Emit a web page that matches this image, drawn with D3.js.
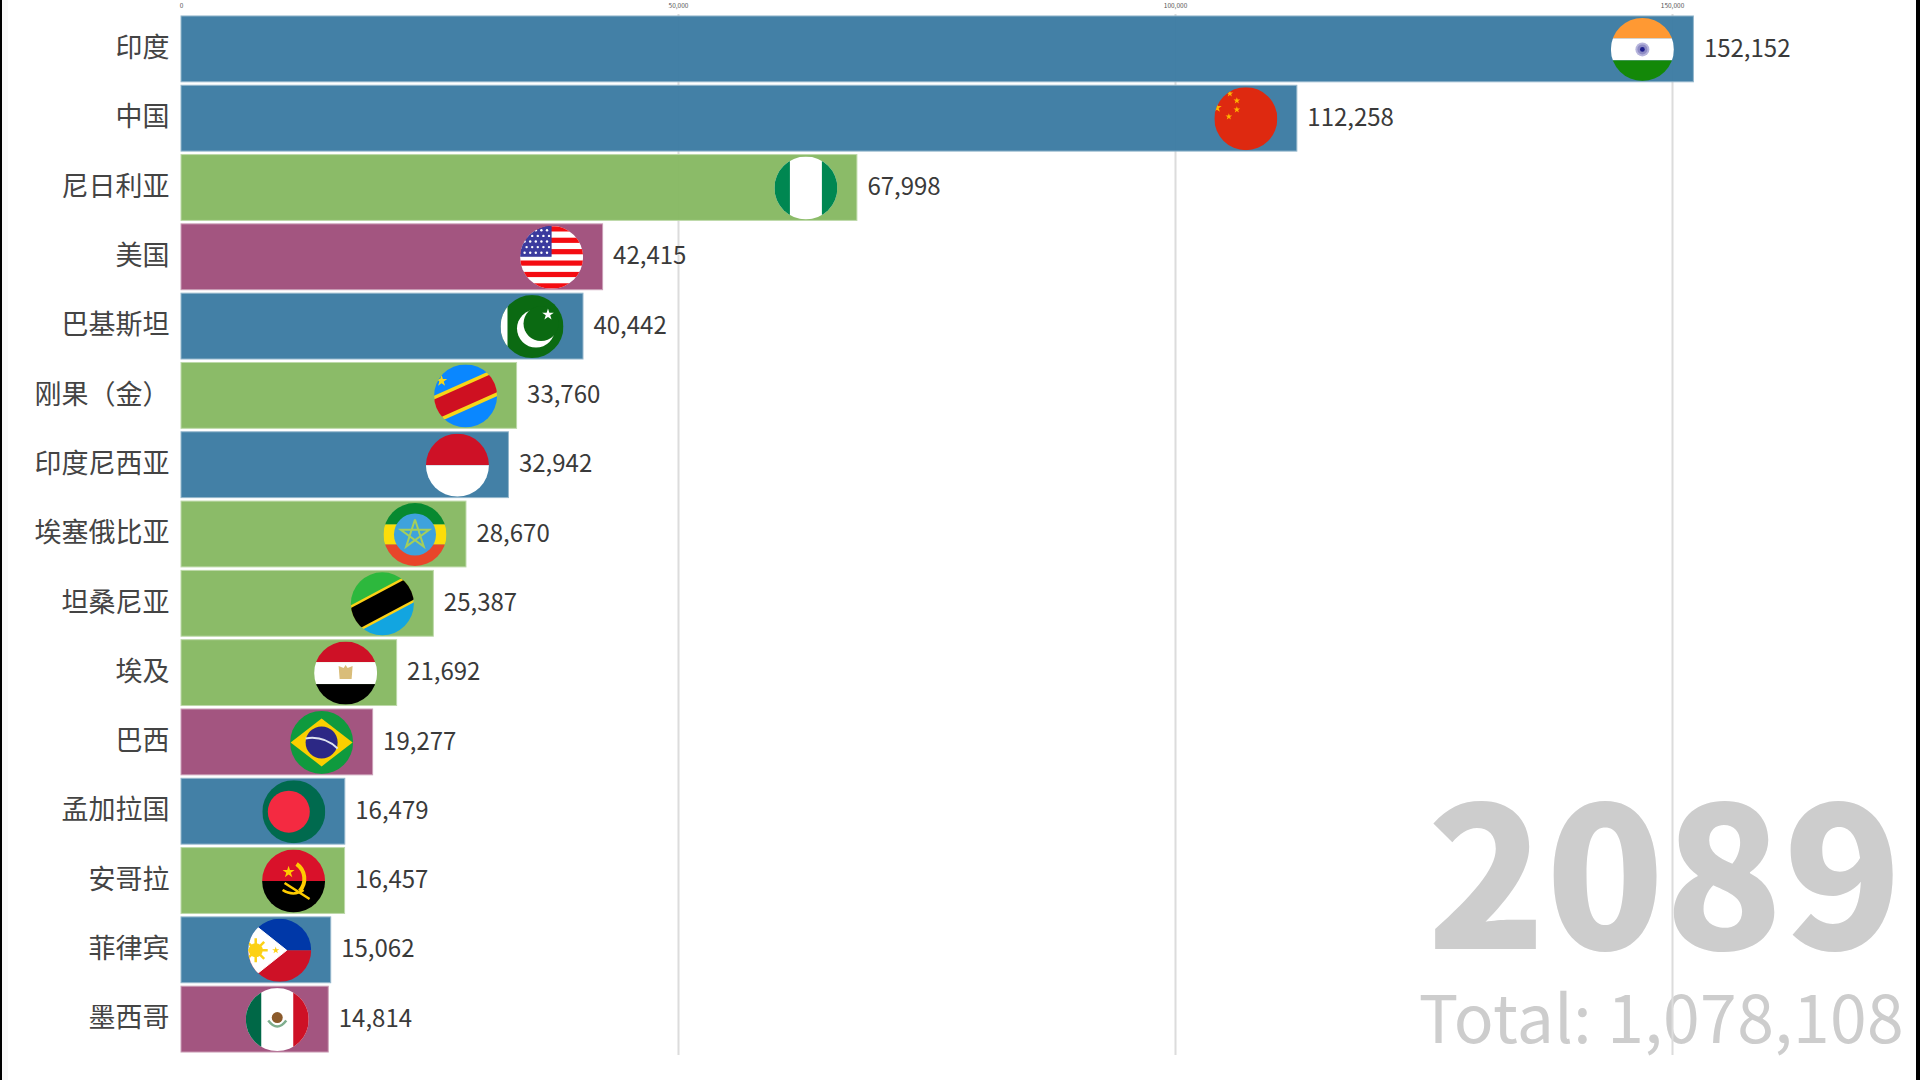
<!DOCTYPE html>
<html lang="zh">
<head>
    <meta charset="UTF-8">
    <title>Population 2089</title>
    <script type="text/javascript" src="https://cdnjs.cloudflare.com/ajax/libs/d3/7.8.5/d3.min.js"></script>
    <style>
        html, body { margin: 0; padding: 0; background: #fff; overflow: hidden; }
        text { font-family: "Noto Sans CJK SC", "Noto Sans", sans-serif; }
    </style>
</head>
<body>
<svg id="chart" width="1920" height="1080"></svg>
<script>
    var countries = ["印度", "中国", "尼日利亚", "美国", "巴基斯坦", "刚果（金）", "印度尼西亚", "埃塞俄比亚",
        "坦桑尼亚", "埃及", "巴西", "孟加拉国", "安哥拉", "菲律宾", "墨西哥"];
    var values = [152152, 112258, 67998, 42415, 40442, 33760, 32942, 28670, 25387, 21692, 19277, 16479, 16457, 15062, 14814];
    var continents = ["asia", "asia", "africa", "america", "asia", "africa", "asia", "africa",
        "africa", "africa", "america", "asia", "africa", "asia", "america"];
    var flagCodes = ["in", "cn", "ng", "us", "pk", "cd", "id", "et", "tz", "eg", "br", "bd", "ao", "ph", "mx"];
    var tickValues = [0, 50000, 100000, 150000];
    var yearLabel = "2089";
    var totalLabel = "Total: 1,078,108";

    var colorScale = d3.scaleOrdinal()
        .domain(["asia", "africa", "america"])
        .range(["#3d7ca3", "#87b963", "#a0507c"]);

    var x = d3.scaleLinear().domain([0, 150000]).range([181, 1672]);
    var y = d3.scaleBand().domain(countries).range([12.5, 1055.5]).padding(0.05);
    var flagR = 31.5;

    var svg = d3.select("#chart");
    var defs = svg.append("defs");
    defs.append("clipPath").attr("id", "flagClip").append("circle").attr("r", flagR);

    // video edges
    svg.append("rect").attr("x", 2).attr("width", 6).attr("height", 1080).attr("fill", "#f9f9f9");
    svg.append("rect").attr("width", 2).attr("height", 1080).attr("fill", "#000");
    svg.append("rect").attr("x", 1916).attr("width", 4).attr("height", 1080).attr("fill", "#000");

    svg.append("text").attr("x", 1902).attr("y", 949)
        .attr("text-anchor", "end").attr("font-size", 195).attr("font-weight", 900)
        .attr("fill", "#cdcdcd").text(yearLabel);
    svg.append("text").attr("x", 1904).attr("y", 1043)
        .attr("text-anchor", "end").attr("font-size", 66).attr("font-weight", 400)
        .attr("letter-spacing", 0.4)
        .attr("fill", "#cdcdcd").text(totalLabel);

    // axis on top, the gridlines are the long inner ticks
    var axis = svg.append("g")
        .attr("transform", "translate(0,14)")
        .call(d3.axisTop(x).tickValues(tickValues).tickSize(0).tickFormat(d3.format(",")));
    axis.select(".domain").remove();
    axis.selectAll("text").attr("font-size", 6.5).attr("fill", "#555").attr("y", -6).attr("dy", 0);
    axis.selectAll("line")
        .attr("y2", function(d) { return d === 0 ? 0 : 1041; })
        .attr("stroke", "#dcdcdc").attr("stroke-width", 2);

    var rows = svg.selectAll("g.row").data(countries).enter().append("g")
        .attr("class", "row")
        .attr("transform", function(d) { return "translate(0," + y(d) + ")"; });

    rows.append("rect")
        .attr("x", x(0))
        .attr("width", function(d, i) { return x(values[i]) - x(0); })
        .attr("height", y.bandwidth())
        .attr("fill", function(d, i) { return colorScale(continents[i]); })
        .attr("fill-opacity", 0.97)
        .attr("stroke", function(d, i) { return d3.interpolateRgb(colorScale(continents[i]), "#fff")(0.45); })
        .attr("stroke-width", 1);

    rows.append("text")
        .attr("x", 169.5).attr("y", y.bandwidth() / 2 - 1.5).attr("dy", "0.36em")
        .attr("text-anchor", "end").attr("font-size", 27).attr("fill", "#444")
        .text(function(d) { return d; });

    rows.append("text")
        .attr("x", function(d, i) { return x(values[i]) + 10.5; })
        .attr("y", y.bandwidth() / 2 - 1).attr("dy", "0.36em")
        .attr("font-size", 24).attr("fill", "#3a3a3a")
        .text(function(d, i) { return d3.format(",")(values[i]); });

    var flags = rows.append("g")
        .attr("transform", function(d, i) {
            return "translate(" + (x(values[i]) - 51) + "," + (y.bandwidth() / 2 + 0.5) + ")";
        })
        .append("g").attr("clip-path", "url(#flagClip)");

    var flagDrawers = drawers();
    flags.each(function(d, i) { flagDrawers[flagCodes[i]](d3.select(this)); });

    // helpers for the flags, all local to a circle of radius flagR around 0,0
    function band(g, x0, y0, w, h, fill) {
        return g.append("rect").attr("x", x0).attr("y", y0).attr("width", w).attr("height", h).attr("fill", fill);
    }
    function disc(g, cx, cy, r, fill) {
        return g.append("circle").attr("cx", cx).attr("cy", cy).attr("r", r).attr("fill", fill);
    }
    function star(g, cx, cy, size, fill) {
        return g.append("path")
            .attr("d", d3.symbol().type(d3.symbolStar).size(size)())
            .attr("transform", "translate(" + cx + "," + cy + ")")
            .attr("fill", fill);
    }
    function pole(g, left, mid, right) {
        band(g, -flagR, -flagR, flagR * 2, flagR * 2, mid);
        band(g, -flagR, -flagR, flagR - 16, flagR * 2, left);
        band(g, 16, -flagR, flagR - 16, flagR * 2, right);
    }
    function tricolor(g, top, mid, bottom, a, b) {
        band(g, -flagR, -flagR, flagR * 2, a + flagR, top);
        band(g, -flagR, a, flagR * 2, b - a, mid);
        band(g, -flagR, b, flagR * 2, flagR - b, bottom);
    }

    function drawers() {
        return {
            "in": function(g) {
                tricolor(g, "#ff9933", "#ffffff", "#138808", -11, 11);
                disc(g, 0, 0, 7, "#b6b4dc");
                disc(g, 0, 0, 5, "#8e8cc4");
                disc(g, 0, 0, 2.4, "#1e1e8c");
            },
            "cn": function(g) {
                band(g, -flagR, -flagR, flagR * 2, flagR * 2, "#de2910");
                star(g, -29, -11, 30, "#ffb400");
                star(g, -16, -25, 14, "#ffb400");
                star(g, -9, -18, 14, "#ffb400");
                star(g, -9, -9, 14, "#ffb400");
                star(g, -17, -2, 14, "#ffb400");
            },
            "ng": function(g) { pole(g, "#008751", "#ffffff", "#008751"); },
            "us": function(g) {
                band(g, -flagR, -flagR, flagR * 2, flagR * 2, "#ffffff");
                d3.range(0, 11, 2).forEach(function(k) {
                    band(g, -flagR, -flagR + k * 5.7 + 0.5, flagR * 2, 5.2, "#f40c12");
                });
                band(g, -flagR, -flagR, flagR, 31, "#3b3b9e");
                d3.range(5).forEach(function(r) {
                    d3.range(5).forEach(function(c) {
                        disc(g, -27 + c * 5.6 + (r % 2) * 2, -27 + r * 5.6, 1.2, "#ffffff");
                    });
                });
            },
            "pk": function(g) {
                band(g, -flagR, -flagR, flagR * 2, flagR * 2, "#0b6a12");
                band(g, -flagR, -flagR, 7, flagR * 2, "#ffffff");
                disc(g, 4, 2, 19, "#ffffff");
                disc(g, 9, -3, 17.5, "#0b6a12");
                star(g, 16, -12, 42, "#ffffff");
            },
            "cd": function(g) {
                band(g, -flagR, -flagR, flagR * 2, flagR * 2, "#0a87ff");
                var s = g.append("g").attr("transform", "rotate(-24)");
                band(s, -45, -13, 90, 26, "#f7d618");
                band(s, -45, -9.5, 90, 19, "#ce1021");
                star(g, -24, -15, 40, "#f7d618");
            },
            "id": function(g) { tricolor(g, "#ce1126", "#ce1126", "#ffffff", 0, 0); },
            "et": function(g) {
                tricolor(g, "#078930", "#fcdd09", "#e8452a", -10, 10);
                disc(g, 0, 0, 21, "#3ea2dc");
                var points = d3.range(6).map(function(k) {
                    var a = -Math.PI / 2 + k * 4 * Math.PI / 5;
                    return [15 * Math.cos(a), 15 * Math.sin(a)];
                });
                g.append("path").attr("d", d3.line()(points)).attr("fill", "none")
                    .attr("stroke", "#a5cf5a").attr("stroke-width", 2);
            },
            "tz": function(g) {
                var s = g.append("g").attr("transform", "rotate(-28)");
                band(s, -45, -45, 90, 45, "#2db83d");
                band(s, -45, 0, 90, 45, "#12a5e0");
                band(s, -45, -13.5, 90, 27, "#fcd116");
                band(s, -45, -11, 90, 22, "#000000");
            },
            "eg": function(g) {
                tricolor(g, "#ce1126", "#ffffff", "#000000", -11, 11);
                g.append("path").attr("d", "M-7,-7L-2,-5L0,-8L2,-5L7,-7L6,6L-6,6Z").attr("fill", "#d9bd7a");
            },
            "br": function(g) {
                band(g, -flagR, -flagR, flagR * 2, flagR * 2, "#0f9a3e");
                g.append("path").attr("d", "M-31,0L0,-24L31,0L0,24Z").attr("fill", "#fbcf00");
                disc(g, 0, 0, 16, "#2c2885");
                g.append("path").attr("d", "M-16,-4Q2,-7 16,6").attr("fill", "none")
                    .attr("stroke", "#dfe3f0").attr("stroke-width", 2);
            },
            "bd": function(g) {
                band(g, -flagR, -flagR, flagR * 2, flagR * 2, "#006a4e");
                disc(g, -5, 0, 21, "#f42a41");
            },
            "ao": function(g) {
                band(g, -flagR, -flagR, flagR * 2, flagR, "#d9112a");
                band(g, -flagR, 0, flagR * 2, flagR, "#000000");
                star(g, -5, -9, 45, "#ffcb00");
                g.append("path").attr("d", "M3,-17A18,18 0 0 1 6,10").attr("fill", "none")
                    .attr("stroke", "#ffcb00").attr("stroke-width", 4);
                g.append("path").attr("d", "M-11,9Q0,16 10,9M-9,2L16,18").attr("fill", "none")
                    .attr("stroke", "#ffcb00").attr("stroke-width", 2.5);
            },
            "ph": function(g) {
                band(g, -flagR, -flagR, flagR * 2, flagR, "#0038a8");
                band(g, -flagR, 0, flagR * 2, flagR, "#ce1126");
                g.append("path").attr("d", "M-32,-31L7,0L-32,31Z").attr("fill", "#ffffff")
                    .attr("stroke", "#ffffff").attr("stroke-width", 1);
                disc(g, -24, 0, 7, "#fcd116");
                d3.range(8).forEach(function(k) {
                    var a = k * Math.PI / 4;
                    g.append("line").attr("x1", -24).attr("y1", 0)
                        .attr("x2", -24 + 12 * Math.cos(a)).attr("y2", 12 * Math.sin(a))
                        .attr("stroke", "#fcd116").attr("stroke-width", 2.5);
                });
                star(g, -4, 0, 16, "#fcd116");
            },
            "mx": function(g) {
                pole(g, "#006847", "#ffffff", "#ce1126");
                g.append("path").attr("d", "M-9,1Q0,13 9,1").attr("fill", "none")
                    .attr("stroke", "#7fae8e").attr("stroke-width", 2.5);
                disc(g, 0, -2, 5.5, "#8b5a2b");
            }
        };
    }
</script>
</body>
</html>
